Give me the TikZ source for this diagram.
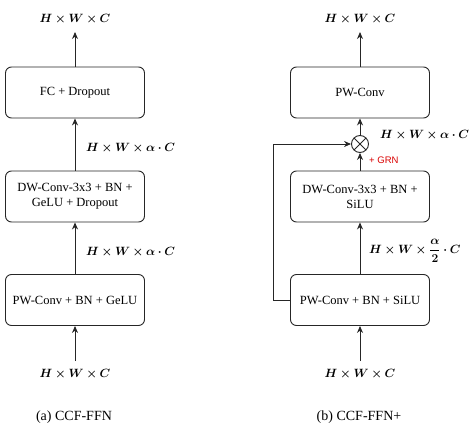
\documentclass[tikz,border=0pt]{standalone}
\usepackage{amsmath}
\usepackage{fontspec}
\usepackage{bm}
\setmainfont{Liberation Serif}
\newfontfamily\grnfont{Liberation Sans}
\usetikzlibrary{arrows.meta}
\tikzset{
  blk/.style={draw=black!85, line width=0.9pt, rounded corners=6pt, minimum width=139pt, minimum height=51pt, align=center, inner sep=2pt, font=\fontsize{12.5}{15}\selectfont},
  dim/.style={inner sep=0pt, font=\fontsize{11.5}{13}\selectfont},
  conn/.style={draw=black!85, line width=0.9pt, -{Stealth[length=7pt,width=6pt]}},
  capt/.style={inner sep=0pt, font=\fontsize{14}{16}\selectfont\rmfamily},
  mult/.style={draw=black!85, line width=0.9pt, circle, minimum size=17pt, inner sep=0pt, path picture={
    \draw[black!85, line width=0.9pt] (path picture bounding box.north west) -- (path picture bounding box.south east)
      (path picture bounding box.north east) -- (path picture bounding box.south west);}}
}
\begin{document}
\begin{tikzpicture}[x=1pt,y=-1pt]
\useasboundingbox (0,0) rectangle (474,442);
% left column
\node[blk] (fc) at (75,92.5) {FC + Dropout};
\node[blk] (dwl) at (75,196.5) {DW-Conv-3x3 + BN +\\GeLU + Dropout};
\node[blk] (pwl) at (75,300) {PW-Conv + BN + GeLU};
\node[dim] (topl) at (75,19) {$\bm{H\times W\times C}$};
\node[dim] (botl) at (75,374) {$\bm{H\times W\times C}$};
\coordinate (tl) at (75,32);
\coordinate (bl) at (75,361);
\draw[conn] (fc.north) -- (tl);
\draw[conn] (dwl.north) -- (fc.south);
\draw[conn] (pwl.north) -- (dwl.south);
\draw[conn] (bl) -- (pwl.south);
\node[dim, anchor=west] (la1) at (86,148) {$\bm{H\times W\times \alpha\cdot C}$};
\node[dim, anchor=west] (la2) at (86,252) {$\bm{H\times W\times \alpha\cdot C}$};
\node[capt] (capa) at (74,417) {(a) CCF-FFN};
% right column
\node[blk] (pwc) at (360,92.5) {PW-Conv};
\node[mult] (mul) at (360,144) {};
\node[blk] (dwr) at (360,196.5) {DW-Conv-3x3 + BN +\\SiLU};
\node[blk] (pwr) at (360,300) {PW-Conv + BN + SiLU};
\node[dim] (topr) at (360,19) {$\bm{H\times W\times C}$};
\node[dim] (botr) at (360,374) {$\bm{H\times W\times C}$};
\coordinate (tr) at (360,32);
\coordinate (br) at (360,361);
\draw[conn] (pwc.north) -- (tr);
\draw[conn] (mul.north) -- (pwc.south);
\draw[conn] (dwr.north) -- (mul.south);
\draw[conn] (pwr.north) -- (dwr.south);
\draw[conn] (br) -- (pwr.south);
\coordinate (fb) at (273,300);
\draw[conn] (pwr.west) -- (fb) |- (mul.west);
\node[dim, anchor=west] (ra1) at (380,135) {$\bm{H\times W\times \alpha\cdot C}$};
\node[inner sep=0pt, anchor=west, text=red!85!black, font=\fontsize{9.5}{11}\grnfont] (grn) at (369,160) {+ GRN};
\node[dim, anchor=west] (ra2) at (369,251) {$\bm{H\times W\times \dfrac{\alpha}{2}\cdot C}$};
\node[capt] (capb) at (359,417) {(b) CCF-FFN+};
\end{tikzpicture}
\end{document}
